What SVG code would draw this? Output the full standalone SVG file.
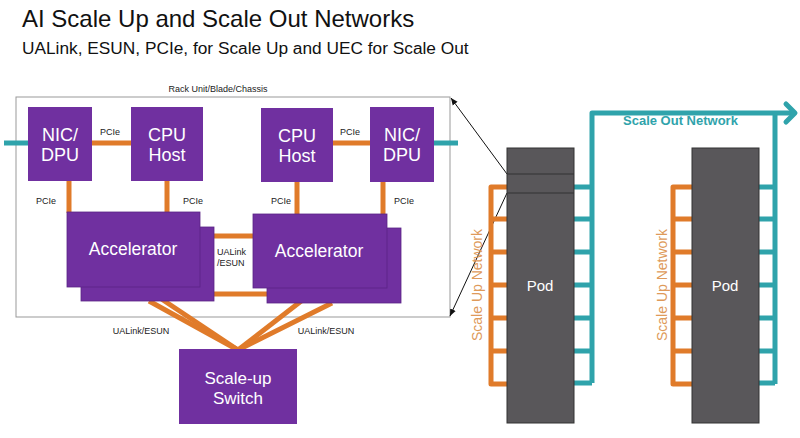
<svg xmlns="http://www.w3.org/2000/svg" width="800" height="438" viewBox="0 0 800 438">
<defs>
<style>
text{font-family:"Liberation Sans",Arial,sans-serif}
.box{fill:#7030a0}
.bt{fill:#fff;font-size:18px;text-anchor:middle}
.sm{fill:#222;font-size:9px;text-anchor:middle}
.or{stroke:#e07b2a;stroke-width:5;fill:none}
.te{stroke:#2fa3ab;stroke-width:5;fill:none;stroke-linejoin:round}
.pod{fill:#59575a;stroke:#333;stroke-width:1}
.comb-o{stroke:#e07b2a;stroke-width:5;fill:none;stroke-linejoin:round}
.comb-t{stroke:#2fa3ab;stroke-width:5;fill:none;stroke-linejoin:round}
.su{fill:#de9a5a;font-size:14px;text-anchor:middle}
</style>
<marker id="ah" markerWidth="8" markerHeight="8" refX="7" refY="4" orient="auto" markerUnits="userSpaceOnUse">
<path d="M0,1 L7,4 L0,7 Z" fill="#111"/>
</marker>
</defs>
<rect width="800" height="438" fill="#fff"/>
<text x="22" y="27" font-size="24" fill="#111">AI Scale Up and Scale Out Networks</text>
<text x="22" y="54" font-size="17.3" fill="#111">UALink, ESUN, PCIe, for Scale Up and UEC for Scale Out</text>

<g id="rack">
<rect x="16" y="97" width="434" height="220" fill="none" stroke="#999" stroke-width="1"/>
<text x="218" y="92" class="sm">Rack Unit/Blade/Chassis</text>
</g>

<g id="connectors">
<line x1="4" y1="143" x2="28" y2="143" class="te"/>
<line x1="434" y1="143" x2="458" y2="143" class="te"/>
<line x1="92" y1="143" x2="131" y2="143" class="or"/>
<line x1="333" y1="143" x2="370" y2="143" class="or"/>
<line x1="69" y1="181" x2="69" y2="213" class="or"/>
<line x1="167" y1="181" x2="167" y2="213" class="or"/>
<line x1="297" y1="182" x2="297" y2="215" class="or"/>
<line x1="383" y1="182" x2="383" y2="215" class="or"/>
<line x1="197" y1="236" x2="253" y2="236" class="or"/>
<line x1="214" y1="294" x2="267" y2="294" class="or"/>
<line x1="145" y1="288" x2="238" y2="350" class="or"/>
<line x1="149" y1="301" x2="238" y2="350" class="or"/>
<line x1="318" y1="288" x2="238" y2="350" class="or"/>
<line x1="332" y1="303" x2="238" y2="350" class="or"/>
<text x="110" y="135" class="sm">PCIe</text>
<text x="350" y="135" class="sm">PCIe</text>
<text x="46" y="204" class="sm">PCIe</text>
<text x="193" y="204" class="sm">PCIe</text>
<text x="281" y="204" class="sm">PCIe</text>
<text x="404" y="204" class="sm">PCIe</text>
<text x="217" y="255" class="sm" style="text-anchor:start">UALink</text>
<text x="217" y="266" class="sm" style="text-anchor:start">/ESUN</text>
<text x="141" y="334" class="sm">UALink/ESUN</text>
<text x="326" y="334" class="sm">UALink/ESUN</text>
<line x1="507" y1="174" x2="451" y2="98" stroke="#111" stroke-width="1" marker-end="url(#ah)"/>
<line x1="507" y1="193" x2="450" y2="316" stroke="#111" stroke-width="1" marker-end="url(#ah)"/>
</g>

<g id="nic-left">
<rect x="28" y="107" width="64" height="74" class="box"/>
<text x="60" y="141" class="bt">NIC/</text>
<text x="60" y="161" class="bt">DPU</text>
</g>
<g id="cpu-left">
<rect x="131" y="107" width="72" height="74" class="box"/>
<text x="167" y="141" class="bt">CPU</text>
<text x="167" y="161" class="bt">Host</text>
</g>
<g id="cpu-right">
<rect x="261" y="108" width="72" height="74" class="box"/>
<text x="297" y="142" class="bt">CPU</text>
<text x="297" y="162" class="bt">Host</text>
</g>
<g id="nic-right">
<rect x="370" y="107" width="64" height="75" class="box"/>
<text x="402" y="141" class="bt">NIC/</text>
<text x="402" y="161" class="bt">DPU</text>
</g>

<g id="accel-left">
<rect x="81" y="227" width="133" height="74" class="box" stroke="#5a2585" stroke-width="0.8"/>
<rect x="67" y="212" width="133" height="75" class="box" stroke="#5a2585" stroke-width="0.8"/>
<text x="133" y="255" class="bt" style="font-size:17.5px">Accelerator</text>
</g>
<g id="accel-right">
<rect x="267" y="228" width="134" height="75" class="box" stroke="#5a2585" stroke-width="0.8"/>
<rect x="253" y="214" width="134" height="74" class="box" stroke="#5a2585" stroke-width="0.8"/>
<text x="319" y="257" class="bt" style="font-size:17.5px">Accelerator</text>
</g>

<g id="switch">
<rect x="179" y="349" width="118" height="75" class="box"/>
<text x="238" y="384" class="bt" style="font-size:17px">Scale-up</text>
<text x="238" y="404" class="bt" style="font-size:17px">Switch</text>
</g>

<g id="scale-out">
<path d="M592,383 L592,113 L795,113" class="te"/>
<path d="M786,104 L795,113 L786,122" class="te" stroke-linecap="round"/>
<line x1="775" y1="113" x2="775" y2="384" class="te"/>
<text x="623" y="125" font-size="13" font-weight="bold" fill="#2fa3ab">Scale Out Network</text>
</g>

<g id="pod-left">
<path d="M507,187 L491,187 L491,384 L507,384 M491,219 L507,219 M491,252 L507,252 M491,285 L507,285 M491,318 L507,318 M491,351 L507,351" class="comb-o"/>
<path d="M574,187 L592,187 M574,219 L592,219 M574,252 L592,252 M574,285 L592,285 M574,318 L592,318 M574,351 L592,351 M574,383 L592,383" class="comb-t"/>
<rect x="507" y="148" width="67" height="275" class="pod"/>
<line x1="507" y1="174" x2="574" y2="174" stroke="#333" stroke-width="1"/>
<line x1="507" y1="193" x2="574" y2="193" stroke="#333" stroke-width="1"/>
<text x="540" y="291" fill="#fff" font-size="15" text-anchor="middle">Pod</text>
<text x="0" y="0" class="su" transform="translate(482,285) rotate(-90)">Scale Up Network</text>
</g>

<g id="pod-right">
<path d="M692,187 L673,187 L673,384 L692,384 M673,219 L692,219 M673,252 L692,252 M673,285 L692,285 M673,318 L692,318 M673,351 L692,351" class="comb-o"/>
<path d="M759,187 L775,187 M759,219 L775,219 M759,252 L775,252 M759,285 L775,285 M759,318 L775,318 M759,351 L775,351 M759,383 L775,383" class="comb-t"/>
<rect x="692" y="148" width="67" height="275" class="pod"/>
<text x="725" y="291" fill="#fff" font-size="15" text-anchor="middle">Pod</text>
<text x="0" y="0" class="su" transform="translate(667,285) rotate(-90)">Scale Up Network</text>
</g>
</svg>
